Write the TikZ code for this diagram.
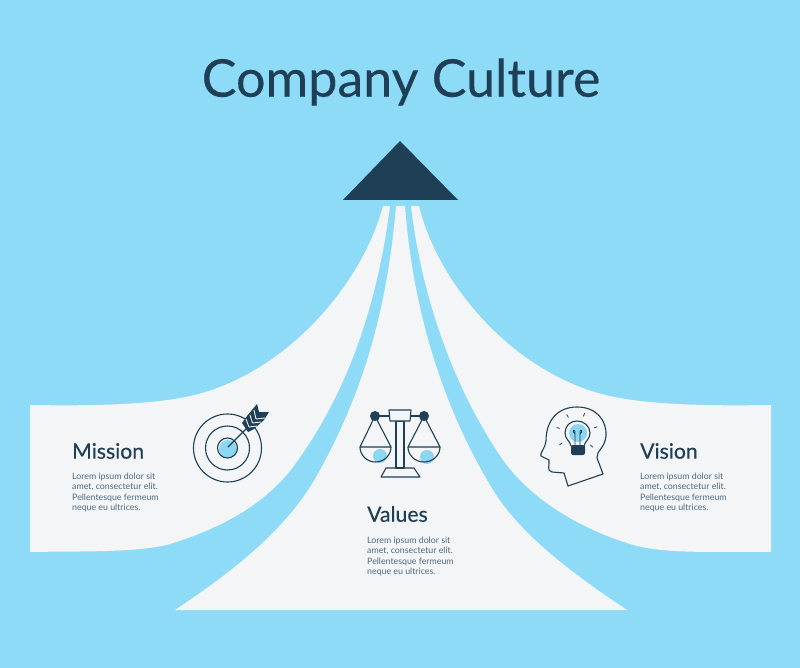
\documentclass[tikz,border=0pt]{standalone}
\usepackage{fontspec}
\setmainfont{Lato}
\newfontfamily\headfont[FakeBold=0.3]{Lato}
\definecolor{sky}{HTML}{8DDBF6}
\definecolor{sheet}{HTML}{F4F5F6}
\definecolor{ink}{HTML}{1E3F55}
\definecolor{soft}{HTML}{4E6A80}
\definecolor{drop}{HTML}{8DD6F2}

\begin{document}
\begin{tikzpicture}[x=1pt, y=-1pt,
		heading/.style = {anchor=west, inner sep=0pt, text=ink, font=\headfont\fontsize{21.2}{25}\selectfont},
		blurb/.style = {anchor=north west, inner sep=0pt, align=left, text=soft, font=\fontsize{8.8}{10.45}\selectfont},
		icon/.style = {draw=ink, line width=1.1pt, line join=round, line cap=round}]
	\fill[sky] (0,0) rectangle (800,668);
	\node[inner sep=0pt, text=ink, font=\headfont\fontsize{52}{60}\selectfont] (title) at (401,82) {Company Culture};
	\fill[ink] (400,141) -- (458,200) -- (343,200) -- cycle;

	% the three bands
	\fill[sheet] (383,206) .. controls (362,285) and (285,375) .. (190,396)
		.. controls (150,405) and (90,406) .. (30,405) -- (30,552)
		.. controls (80,551) and (138,553) .. (170,544)
		.. controls (215,530) and (262,508) .. (293,467)
		.. controls (350,390) and (378,300) .. (390,206) -- cycle;
	\fill[sheet] (396,206) .. controls (388,300) and (367,385) .. (320,470)
		.. controls (290,527) and (235,570) .. (175,610) -- (627,610)
		.. controls (570,572) and (520,534) .. (493,490)
		.. controls (438,400) and (412,300) .. (405,206) -- cycle;
	\fill[sheet] (419,206) .. controls (438,285) and (515,375) .. (610,396)
		.. controls (650,405) and (710,406) .. (771,405) -- (771,552)
		.. controls (720,551) and (665,555) .. (630,544)
		.. controls (578,528) and (530,498) .. (503,460)
		.. controls (455,390) and (422,300) .. (411,206) -- cycle;

	% texts
	\node[heading] (mission) at (72,451) {Mission};
	\node[blurb] (missiontext) at (72,472.5) {Lorem ipsum dolor sit\\amet, consectetur elit.\\Pellentesque fermeum\\neque eu ultrices.};
	\node[heading] (values) at (367,514) {Values};
	\node[blurb] (valuestext) at (367,536.5) {Lorem ipsum dolor sit\\amet, consectetur elit.\\Pellentesque fermeum\\neque eu ultrices.};
	\node[heading] (vision) at (640,451) {Vision};
	\node[blurb] (visiontext) at (640,472.5) {Lorem ipsum dolor sit\\amet, consectetur elit.\\Pellentesque fermeum\\neque eu ultrices.};

	% target
	\fill[drop] (228,449) circle (9);
	\foreach \r in {34,22,10}
		\draw[icon] (227.5,448) circle (\r);
	\draw[icon] (228,447) -- (248,427);
	\fill[ink] (248,432) -- (242,423) -- (247,416) -- (257,404) -- (259,412) -- (269,412) -- (264,420) -- (254,429) -- cycle;
	\draw[sheet, line width=.9pt] (249,427) -- (246,419) (249,427) -- (257,426)
		(252.5,423) -- (250,415) (252.5,423) -- (261,422)
		(256,419) -- (254,410) (256,419) -- (265,418);

	% scales
	\fill[drop] (380,456) circle (7) (427,457) circle (7);
	\draw[icon] (375,416) -- (424,416);
	\draw[icon, fill=sheet] (396,421) rectangle (404,468);
	\draw[icon, fill=sheet] (389,410) -- (411,410) -- (410,421) -- (390,421) -- cycle;
	\draw[icon] (386,468) -- (414,468) -- (420,477) -- (381,477) -- cycle;
	\draw[icon] (375,416) -- (360,447) -- (391,447) -- cycle;
	\draw[icon] (360,447) arc[start angle=180, end angle=360, x radius=15.5, y radius=-15];
	\draw[icon] (424,416) -- (408,447) -- (440,447) -- cycle;
	\draw[icon] (408,447) arc[start angle=180, end angle=360, x radius=16, y radius=-15];
	\fill[ink] (375,416) circle (5) (424,416) circle (5);

	% head with bulb
	\fill[drop] (578,433) circle (9);
	\draw[icon] (568,486) -- (564,473) -- (552,472)
		.. controls (546,471) and (550,464) .. (549,460) -- (541,456)
		.. controls (539,454) and (546,447) .. (546,441)
		.. controls (546,420) and (558,407) .. (577,407)
		.. controls (596,407) and (607,420) .. (606,436)
		.. controls (605,448) and (596,451) .. (597,458) -- (603,474) -- cycle;
	\draw[icon] (571,446) .. controls (570,441) and (565,439) .. (565,433)
		.. controls (565,426) and (570,421) .. (577,421)
		.. controls (584,421) and (590,426) .. (590,433)
		.. controls (590,439) and (585,441) .. (584,446);
	\fill[ink, rounded corners=2pt] (571,445) rectangle (585,455);
	\draw[icon, line width=.8pt] (575,445) -- (575,432) (580,445) -- (580,432)
		(575,432) .. controls (575,428) and (571,431) .. (575,434)
		(580,432) .. controls (580,428) and (584,431) .. (580,434);
	\foreach \a in {-119,-69,-165,-17,146,42}
		\draw[icon, line width=.8pt] ({577+18*cos(\a)},{433+18*sin(\a)}) -- ({577+21*cos(\a)},{433+21*sin(\a)});
\end{tikzpicture}
\end{document}
